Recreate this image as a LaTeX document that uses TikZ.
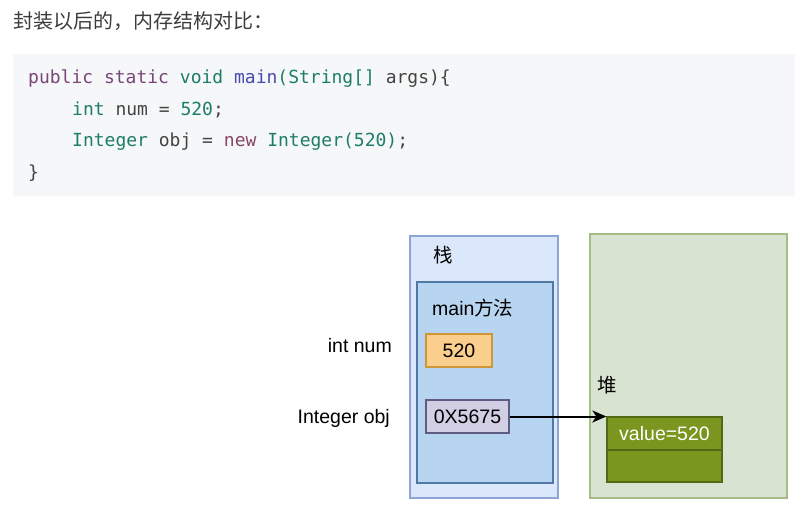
\documentclass[tikz,border=0pt]{standalone}
\usepackage{fontspec}
\setmainfont{Liberation Sans}
\setmonofont{DejaVu Sans Mono}
\newfontfamily\cjk{Noto Sans CJK SC}
\usetikzlibrary{arrows.meta}
\definecolor{titlegray}{RGB}{60,60,60}
\definecolor{codebg}{RGB}{246,247,248}
\definecolor{codekw}{RGB}{122,70,122}
\definecolor{codenew}{RGB}{135,70,105}
\definecolor{codetype}{RGB}{30,125,105}
\definecolor{codefn}{RGB}{70,75,175}
\definecolor{codetxt}{RGB}{68,68,68}
\definecolor{stackfill}{RGB}{219,231,250}
\definecolor{stackline}{RGB}{140,165,212}
\definecolor{mainfill}{RGB}{183,213,240}
\definecolor{mainline}{RGB}{80,120,165}
\definecolor{numfill}{RGB}{250,206,140}
\definecolor{numline}{RGB}{205,150,55}
\definecolor{reffill}{RGB}{210,207,228}
\definecolor{refline}{RGB}{95,92,130}
\definecolor{heapfill}{RGB}{216,227,210}
\definecolor{heapline}{RGB}{165,188,135}
\definecolor{objfill}{RGB}{122,150,30}
\definecolor{objline}{RGB}{80,105,20}
\tikzset{
	box/.style={draw, rectangle, inner sep=0pt, line width=1.3pt},
	code/.style={anchor=base west, inner sep=0pt, font=\ttfamily\fontsize{18}{22}\selectfont, text=codetxt},
	lbl/.style={inner sep=0pt, font=\fontsize{19.5}{23}\selectfont, text=black}
}

\begin{document}
\begin{tikzpicture}[x=1pt, y=-1pt]
	\useasboundingbox (0,0) rectangle (798,516);
	
	% heading and code
	\node(title) at (13,29) [anchor=base west, inner sep=0pt, text=titlegray] {\cjk\fontsize{20}{24}\selectfont 封装以后的，内存结构对比：};
	\fill[codebg] (13,54) rectangle (795,196);
	\node(l1) at (28,84) [code] {\textcolor{codekw}{public static} \textcolor{codetype}{void} \textcolor{codefn}{main}\textcolor{codetype}{(String[]} args)\{};
	\node(l2) at (72,115.5) [code] {\textcolor{codetype}{int} num = \textcolor{codetype}{520};};
	\node(l3) at (72,147) [code] {\textcolor{codetype}{Integer} obj = \textcolor{codenew}{new} \textcolor{codetype}{Integer(520)};};
	\node(l4) at (28,178.5) [code] {\}};
	
	% stack
	\node(stack) at (484,367) [box, draw=stackline, fill=stackfill, minimum width=148pt, minimum height=262pt] {};
	\node(main) at (485,382.5) [box, draw=mainline, fill=mainfill, minimum width=136pt, minimum height=201pt] {};
	\node(stacklbl) at (433,255) [lbl, anchor=west] {\cjk 栈};
	\node(mainlbl) at (432,308) [lbl, anchor=west] {main{\cjk 方法}};
	\node(num) at (459,350.5) [box, lbl, draw=numline, fill=numfill, minimum width=66pt, minimum height=33pt] {520};
	\node(addr) at (467.5,416.5) [box, lbl, draw=refline, fill=reffill, minimum width=83pt, minimum height=33pt] {0X5675};
	\node(numlbl) at (392,346) [lbl, anchor=east] {int num};
	\node(objlbl) at (390,418) [lbl, anchor=east] {Integer obj};
	
	% heap
	\node(heap) at (688.5,366) [box, draw=heapline, fill=heapfill, minimum width=197pt, minimum height=264pt] {};
	\node(heaplbl) at (597,385) [lbl, anchor=west] {\cjk 堆};
	\node(val) at (664.5,433.5) [box, lbl, text=white, draw=objline, fill=objfill, minimum width=115pt, minimum height=33pt] {value=520};
	\node(valrest) at (664.5,466) [box, draw=objline, fill=objfill, minimum width=115pt, minimum height=32pt] {};
	
	\draw[-{Stealth[length=14pt, width=12pt, inset=4pt]}, line width=2pt] (addr.east) -- (addr.east -| val.west);
\end{tikzpicture}
\end{document}
